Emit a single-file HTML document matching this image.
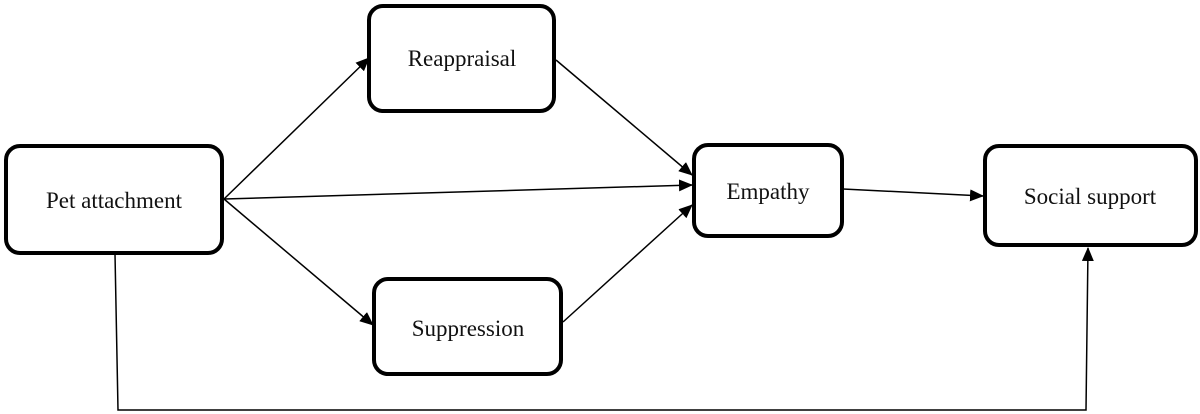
<!DOCTYPE html>
<html><head><meta charset="utf-8"><style>
html,body{margin:0;padding:0;background:#fff;}
svg{display:block;}
text{font-family:"Liberation Serif",serif;font-size:23px;fill:#111;}
</style></head><body>
<svg width="1200" height="414" viewBox="0 0 1200 414" xmlns="http://www.w3.org/2000/svg">
<defs>
<marker id="a" markerWidth="10" markerHeight="10" refX="9" refY="5" orient="auto" markerUnits="userSpaceOnUse" viewBox="0 0 10 10">
<path d="M0,0 L10,5 L0,10 z" fill="#000"/></marker>
<marker id="b" markerWidth="14" markerHeight="12" refX="13" refY="6" orient="auto" markerUnits="userSpaceOnUse" viewBox="0 0 14 12">
<path d="M0,0 L14,6 L0,12 z" fill="#000"/></marker>
</defs>
<g fill="#fff" stroke="#000" stroke-width="4">
<rect x="6" y="146" width="216" height="107" rx="14"/>
<rect x="369" y="6" width="185" height="105" rx="14"/>
<rect x="374" y="279" width="187" height="95" rx="14"/>
<rect x="694" y="145" width="148" height="91" rx="14"/>
<rect x="985" y="146" width="211" height="99" rx="14"/>
</g>
<g stroke="#000" stroke-width="1.5" fill="none">
<line x1="224" y1="199" x2="369" y2="58" marker-end="url(#b)"/>
<line x1="224" y1="199" x2="692" y2="185" marker-end="url(#b)"/>
<line x1="224" y1="199" x2="373" y2="325" marker-end="url(#b)"/>
<line x1="556" y1="60" x2="692" y2="175" marker-end="url(#b)"/>
<line x1="563" y1="322" x2="692" y2="205" marker-end="url(#b)"/>
<line x1="843" y1="189" x2="983" y2="196" marker-end="url(#b)"/>
<polyline points="115,254 118,410 1086,410 1088,248" marker-end="url(#b)"/>
</g>
<text x="114" y="208" text-anchor="middle">Pet attachment</text>
<text x="462" y="66" text-anchor="middle">Reappraisal</text>
<text x="468" y="336" text-anchor="middle">Suppression</text>
<text x="768" y="199" text-anchor="middle">Empathy</text>
<text x="1090" y="204" text-anchor="middle">Social support</text>
</svg>
</body></html>
